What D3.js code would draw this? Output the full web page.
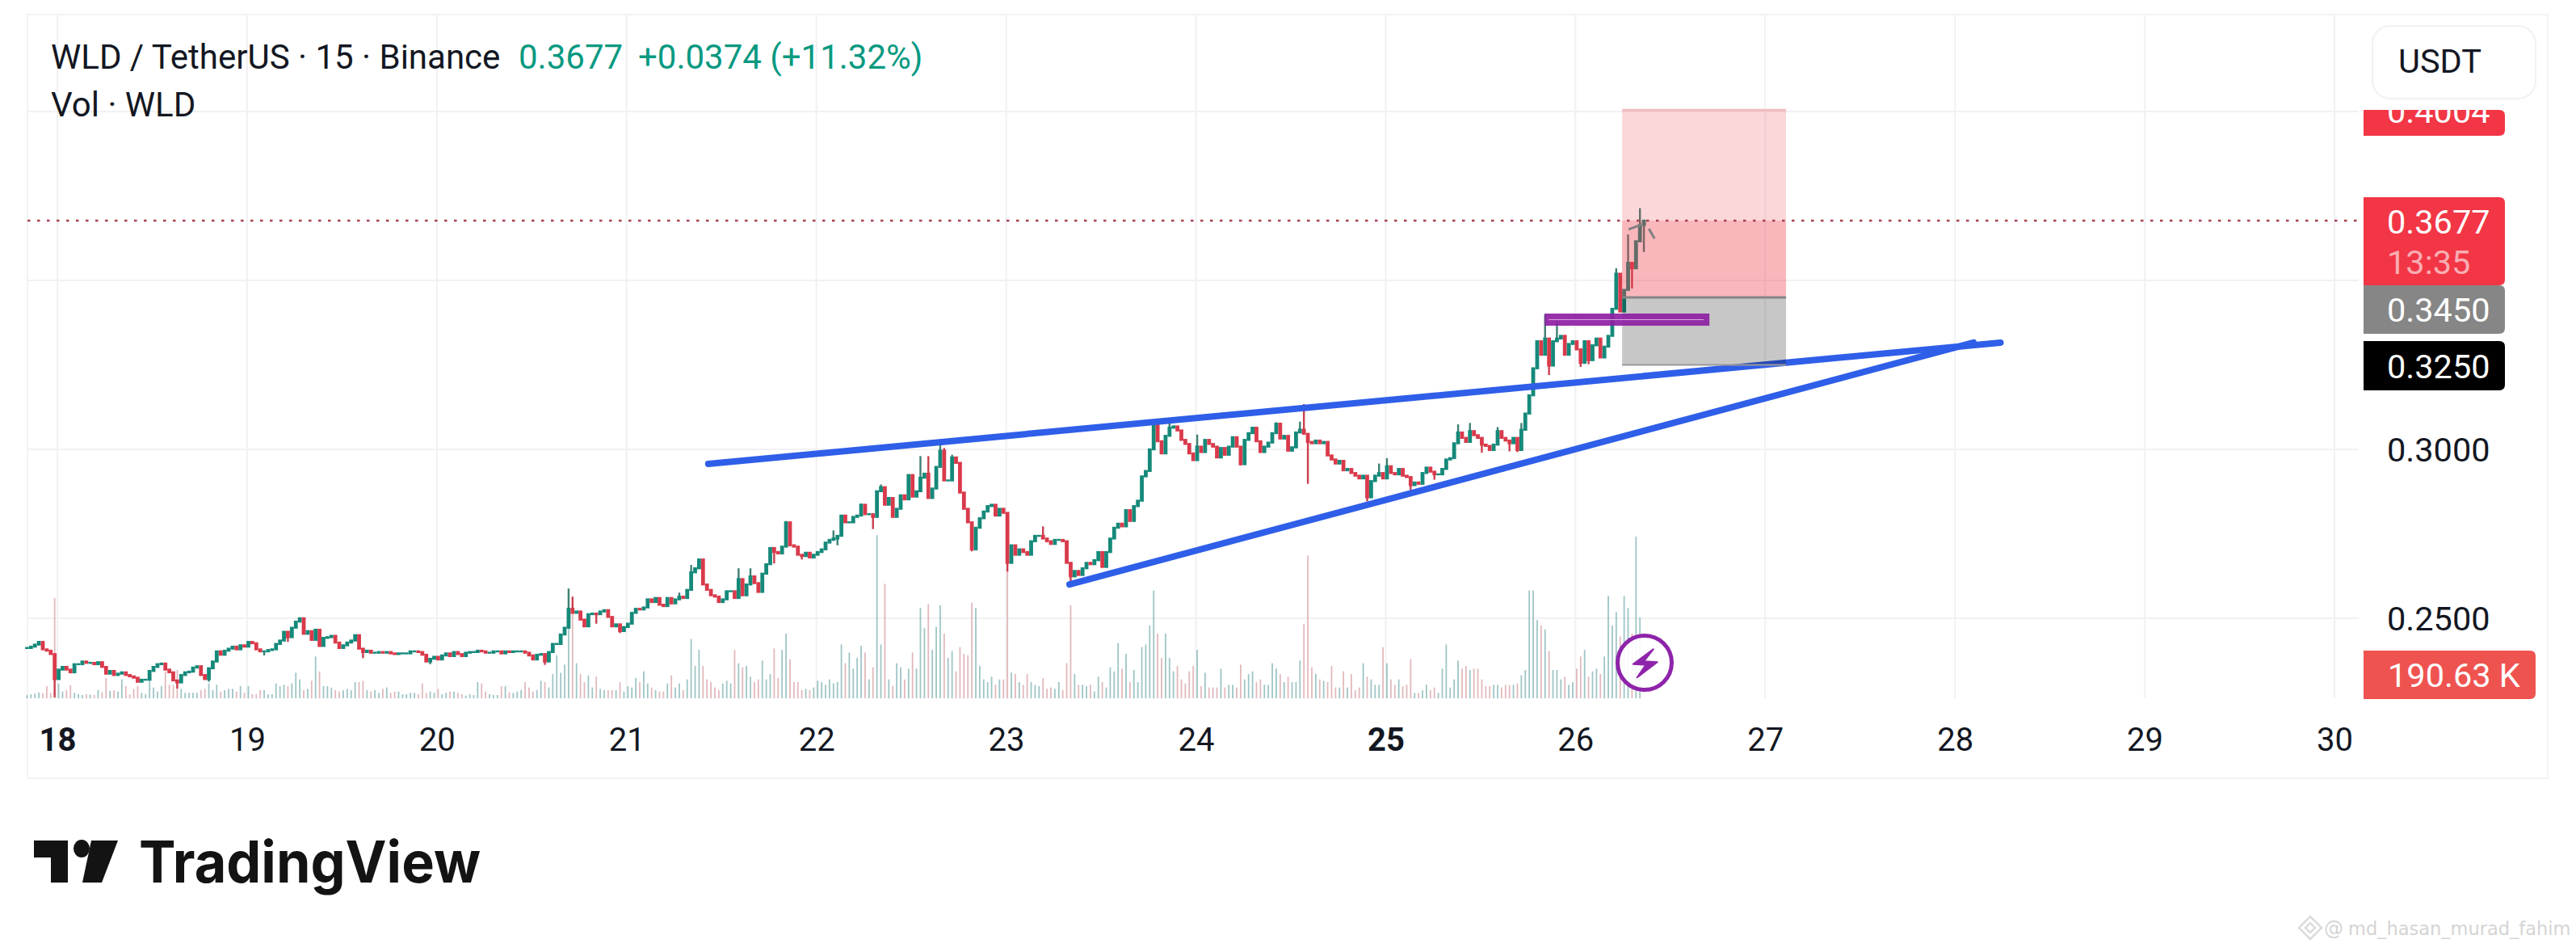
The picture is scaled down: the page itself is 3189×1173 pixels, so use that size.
<!DOCTYPE html>
<html lang="en">
<head>
<meta charset="UTF-8">
<title>WLD / TetherUS</title>
<script src="https://d3js.org/d3.v7.min.js"></script>
<style>
    body { margin: 0; background: #fff; }
    svg { display: block; font-family: Roboto, sans-serif; }
</style>
</head>
<body>
<script>
    // 30 minute closes, open = previous close
    const closes = [
        .2412,.2416,.2422,.2430,.2408,.2404,.2394,.2320,.2348,.2356,.2348,.2340,.2364,.2364,.2372,.2368,.2368,.2364,.2370,.2356,
        .2336,.2344,.2332,.2336,.2340,.2332,.2328,.2324,.2312,.2318,.2318,.2344,.2356,.2364,.2366,.2348,.2340,.2316,.2310,.2332,
        .2340,.2342,.2354,.2358,.2332,.2320,.2352,.2372,.2402,.2392,.2404,.2410,.2416,.2408,.2420,.2416,.2430,.2426,.2408,.2402,
        .2402,.2406,.2408,.2424,.2434,.2460,.2444,.2472,.2490,.2500,.2454,.2462,.2436,.2466,.2418,.2442,.2444,.2448,.2428,.2412,
        .2420,.2428,.2434,.2450,.2410,.2400,.2404,.2398,.2398,.2400,.2398,.2400,.2396,.2394,.2396,.2396,.2396,.2402,.2402,.2400,
        .2392,.2372,.2380,.2386,.2378,.2390,.2396,
        .2388,.2400,.2394,.2388,.2398,.2400,.2400,.2404,.2402,.2398,.2398,.2402,.2402,.2396,.2402,.2400,.2402,.2402,.2402,.2398,
        .2390,.2378,.2392,.2394,.2372,.2400,.2424,.2424,.2452,.2472,.2528,.2516,.2520,.2496,.2476,.2512,.2514,.2512,.2520,.2524,
        .2504,.2476,.2482,.2462,.2474,.2484,.2516,.2528,.2526,.2532,.2556,.2548,.2560,.2540,.2536,.2560,.2544,.2556,.2564,.2560,
        .2584,.2636,.2648,.2674,.2600,.2584,.2568,.2564,.2548,.2556,.2580,.2580,.2560,.2616,.2568,.2600,.2624,.2604,.2578,.2632,
        .2660,.2708,.2696,.2692,.2712,.2784,.2716,.2712,.2688,.2684,.2694,.2680,.2688,.2696,.2704,.2724,.2732,.2736,.2744,.2804,
        .2784,.2784,.2800,.2804,.2836,.2808,
        .2808,.2800,.2876,.2888,.2836,.2856,.2800,.2824,.2864,.2852,.2924,.2860,.2876,.2916,.2928,.2856,.2884,.2948,.2996,.2908,
        .2908,.2976,.2960,.2872,.2824,.2784,.2704,.2768,.2796,.2816,.2832,.2836,.2804,.2824,.2812,.2664,.2716,.2688,.2704,.2696,
        .2688,.2728,.2744,.2744,.2736,.2728,.2720,.2732,.2732,.2728,.2664,.2624,.2640,.2628,.2648,.2664,.2660,.2672,.2696,.2652,
        .2696,.2736,.2768,.2780,.2772,.2820,.2788,.2832,.2848,.2920,.2936,.3000,.3072,.3024,.2988,.3040,.3064,.3068,.3056,.3028,
        .3016,.2988,.2968,.3008,.2992,.3028,.3016,.3008,.2976,.3004,.2984,.3008,.3036,.3008,.2956,.3028,.3048,.3064,.3024,.2992,
        .3008,.3020,.3048,.3076,.3032,.3040,.2996,
        .3006,.3050,.3058,.3046,.3022,.3018,.3026,.3018,.3022,.2982,.2970,.2958,.2966,.2938,.2942,.2930,.2922,.2914,.2922,.2858,
        .2906,.2922,.2930,.2914,.2950,.2930,.2926,.2942,.2922,.2918,.2894,.2902,.2898,.2930,.2946,.2934,.2926,.2926,.2942,.2970,
        .2974,.3018,.3050,.3034,.3022,.3054,.3042,.3034,.3014,.3010,.2998,.3014,.3054,.3034,.3026,.3018,.3034,.2998,.3058,.3106,
        .3160,.3240,.3320,.3280,.3328,.3248,.3320,.3328,.3336,.3280,.3312,.3320,.3296,.3256,.3320,.3264,.3308,.3328,.3272,.3304,
        .3336,.3416,.3520,.3408,.3472,.3552,.3536,.3616,.3664,.3677
    ];

    // long wicks only: [candle index, high, low]
    const wicks = [
        [7,.2364,.2266],[38,null,.2292],[46,null,.2312],[60,null,.2390],[66,null,.2430],[85,null,.2382],[102,null,.2364],
        [131,null,.2362],[137,.2588,null],[138,.2564,null],[144,null,.2484],[150,null,.2456],[165,.2576,null],[168,.2658,null],
        [170,.2676,null],[180,.2648,null],[183,.2648,null],[189,null,.2662],[192,.2788,null],[196,null,.2674],[204,.2760,null],
        [205,null,.2716],[211,.2840,null],[214,null,.2764],[216,.2896,null],[226,.2980,null],[228,.2980,null],[231,.3020,null],
        [232,.3004,null],[234,.2984,null],[239,null,.2698],[248,null,.2638],[257,.2772,null],[264,null,.2598],[285,.3088,null],
        [289,.3080,null],[296,.3044,null],[307,null,.2952],[316,.3080,null],[322,.3082,null],[323,.3134,null],[324,null,.2898],
        [339,null,.2846],[342,.2958,null],[344,.2974,null],[350,null,.2874],[356,null,.2910],[362,.3074,null],[365,.3078,null],
        [368,null,.2990],[372,.3066,null],[375,null,.2994],[377,null,.2992],[378,.3078,null],[384,.3400,null],[385,null,.3220],
        [387,.3380,null],[393,null,.3244],[395,null,.3252],[402,.3536,null],[405,.3636,null],[406,null,.3476],[408,.3714,null],
        [409,null,.3584]
    ];

    // volume in K, same candles as closes
    const volumes = [
        12,15,18,22,18,45,20,372,55,25,30,48,20,15,12,15,14,12,30,22,75,28,30,25,70,45,15,35,45,20,15,70,40,25,45,100,50,50,105,35,
        20,20,20,20,30,35,55,30,50,25,30,35,35,25,45,20,45,15,15,30,30,15,15,55,45,50,45,55,95,70,30,35,65,155,100,45,45,40,30,25,
        30,35,30,60,60,65,30,25,30,20,35,40,20,25,25,15,15,20,20,15,55,20,25,20,35,15,20,
        25,25,20,15,10,15,12,60,55,25,15,12,12,45,45,22,20,25,30,60,40,25,30,65,60,40,90,160,95,125,340,340,130,90,60,85,40,80,35,30,
        30,30,30,60,25,45,40,75,60,100,55,40,30,25,25,55,85,40,55,30,70,220,120,180,120,70,60,40,30,55,65,55,180,130,115,120,80,60,70,140,
        70,90,185,75,180,240,145,60,60,30,35,30,40,65,60,50,70,55,60,200,130,170,110,150,195,170,
        70,115,605,200,425,70,45,130,115,70,110,170,110,335,260,350,180,265,345,240,150,175,100,190,165,160,355,335,120,70,60,80,50,70,70,470,95,90,60,50,
        90,60,50,45,75,35,40,35,60,30,130,345,90,50,50,45,50,25,80,60,40,115,100,205,110,165,60,105,60,190,200,270,400,240,150,240,150,100,120,70,
        55,100,120,180,45,95,40,40,40,110,40,50,50,40,125,70,90,100,60,70,50,50,130,110,90,60,80,
        60,60,140,275,530,115,90,70,65,60,120,40,40,100,40,90,30,40,130,80,70,50,50,190,130,70,50,70,45,50,145,20,20,30,50,30,40,20,110,200,
        40,70,140,110,120,105,110,110,70,45,45,50,50,40,50,50,50,55,85,105,400,400,290,270,255,175,105,105,70,80,50,60,110,155,180,80,100,110,90,155,
        380,270,320,230,380,335,240,600,300
    ];

    const dayTicks = [18, 19, 20, 21, 22, 23, 24, 25, 26, 27, 28, 29, 30];
    const boldDays = [18, 25];
    const gridPrices = [0.25, 0.30, 0.35, 0.40];
    const priceTicks = [0.25, 0.30];
    const firstDay = 17.84;
    const candlesPerDay = 48;

    const lastPrice = 0.3677;
    const entryPrice = 0.3450;
    const targetPrice = 0.4004;
    const stopPrice = 0.3250;

    // trend lines as [day, price] pairs
    const trendLines = [
        [[21.43, 0.2957], [28.24, 0.3316]],
        [[23.334, 0.2600], [28.098, 0.3316]]
    ];
    const arrowStrokes = [
        [[26.28, 0.3651], [26.357, 0.3667]],
        [[26.387, 0.3653], [26.417, 0.3624]]
    ];

    const W = 3189, H = 1173;
    const green = "#089981", red = "#f23645", ink = "#131722";
    const frameLeft = 34, frameRight = 3154, frameTop = 18, frameBottom = 963, plotBottom = 864, gridRight = 2920;

    const x = d3.scaleLinear().domain([18, 30]).range([71, 2890]);
    const y = d3.scaleLinear().domain([0.25, 0.35]).range([765, 347]);
    const vy = d3.scaleLinear().domain([0, 600]).range([plotBottom, plotBottom - 200]);
    const candleX = i => x(firstDay + i / candlesPerDay);

    const svg = d3.select("body").append("svg").attr("width", W).attr("height", H);

    // frame and grid
    svg.append("rect").attr("x", frameLeft).attr("y", frameTop).attr("width", frameRight - frameLeft).attr("height", frameBottom - frameTop)
        .attr("fill", "none").attr("stroke", "#f3f3f4").attr("stroke-width", 2);
    svg.append("g").selectAll("line").data(dayTicks).join("line")
        .attr("x1", d => x(d)).attr("x2", d => x(d)).attr("y1", frameTop).attr("y2", plotBottom)
        .attr("stroke", "#f1f1f3").attr("stroke-width", 2);
    svg.append("g").selectAll("line").data(gridPrices).join("line")
        .attr("x1", frameLeft).attr("x2", gridRight).attr("y1", d => y(d)).attr("y2", d => y(d))
        .attr("stroke", "#f1f1f3").attr("stroke-width", 2);

    // volume
    svg.append("g").selectAll("rect").data(volumes).join("rect")
        .attr("x", (d, i) => candleX(i) - 0.9)
        .attr("width", 1.8)
        .attr("y", d => vy(d))
        .attr("height", d => plotBottom - vy(d))
        .attr("fill", (d, i) => closes[i] >= (i ? closes[i - 1] : closes[i]) ? "#5f9ea0" : "#cf8a8f")
        .attr("opacity", 0.6);

    // candles
    const candles = svg.append("g");
    candles.selectAll("line").data(wicks).join("line")
        .attr("x1", d => candleX(d[0])).attr("x2", d => candleX(d[0]))
        .attr("y1", d => y(d[1] === null ? Math.max(closes[d[0]], closes[d[0] - 1]) : d[1]))
        .attr("y2", d => y(d[2] === null ? Math.min(closes[d[0]], closes[d[0] - 1]) : d[2]))
        .attr("stroke", d => closes[d[0]] >= closes[d[0] - 1] ? "#3f7f72" : "#c9404f")
        .attr("stroke-width", 2.4);
    candles.selectAll("rect").data(closes).join("rect")
        .attr("x", (d, i) => candleX(i) - 2.4)
        .attr("width", 4.8)
        .attr("y", (d, i) => Math.min(y(d), y(i ? closes[i - 1] : d)) - 1.2)
        .attr("height", (d, i) => Math.abs(y(d) - y(i ? closes[i - 1] : d)) + 2.4)
        .attr("fill", (d, i) => d >= (i ? closes[i - 1] : d) ? "#15897a" : "#d93a4b");

    // trend lines
    const line = d3.line().x(d => x(d[0])).y(d => y(d[1]));
    svg.append("g").selectAll("path").data(trendLines).join("path")
        .attr("d", line).attr("fill", "none").attr("stroke", "#2f5ee8")
        .attr("stroke-width", 8).attr("stroke-linecap", "round");

    // long position tool
    const boxDays = [26.246, 27.11];
    const box = svg.append("g");
    const zone = (p1, p2, fill) => box.append("rect")
        .attr("x", x(boxDays[0])).attr("width", x(boxDays[1]) - x(boxDays[0]))
        .attr("y", y(p1)).attr("height", y(p2) - y(p1)).attr("fill", fill);
    zone(targetPrice, entryPrice, "rgba(242,54,69,0.2)");
    zone(lastPrice, entryPrice, "rgba(242,54,69,0.2)");
    zone(entryPrice, stopPrice, "rgba(0,0,0,0.22)");
    const boxLine = (p, color, w) => box.append("line")
        .attr("x1", x(boxDays[0])).attr("x2", x(boxDays[1])).attr("y1", y(p)).attr("y2", y(p))
        .attr("stroke", color).attr("stroke-width", w);
    boxLine(targetPrice, "#f0bcc1", 3);
    boxLine(entryPrice, "#858585", 3);
    boxLine(stopPrice, "#9a9a9a", 2);

    // purple block with its centre line
    svg.append("rect").attr("x", x(25.838)).attr("width", x(26.706) - x(25.838))
        .attr("y", y(0.3402)).attr("height", y(0.3366) - y(0.3402))
        .attr("fill", "#8e1fa3").attr("opacity", 0.92);
    svg.append("line").attr("x1", x(25.859)).attr("x2", x(26.676))
        .attr("y1", y(0.3384)).attr("y2", y(0.3384)).attr("stroke", "#dba8e4").attr("stroke-width", 1);

    svg.append("g").selectAll("path").data(arrowStrokes).join("path")
        .attr("d", line).attr("fill", "none").attr("stroke", "#808080").attr("stroke-width", 3);

    // last price line
    svg.append("line").attr("x1", frameLeft).attr("x2", gridRight - 2).attr("y1", y(lastPrice)).attr("y2", y(lastPrice))
        .attr("stroke", "#a8404f").attr("stroke-width", 2.5).attr("stroke-dasharray", "3.5 8.5");

    // axes
    const xAxis = svg.append("g").attr("transform", `translate(0,${plotBottom})`)
        .call(d3.axisBottom(x).tickValues(dayTicks).tickSize(0).tickFormat(d3.format("d")));
    xAxis.select(".domain").remove();
    xAxis.selectAll("text").attr("y", 65).attr("dy", 0)
        .attr("font-size", 40).attr("fill", ink).attr("font-family", "Roboto, sans-serif")
        .attr("font-weight", d => boldDays.includes(d) ? 700 : 400);

    const yAxis = svg.append("g").attr("transform", "translate(2955,1.5)")
        .call(d3.axisRight(y).tickValues(priceTicks).tickSize(0).tickPadding(0).tickFormat(d3.format(".4f")));
    yAxis.select(".domain").remove();
    yAxis.selectAll("text").attr("font-size", 41.5).attr("fill", ink).attr("font-family", "Roboto, sans-serif");

    // price tags, square on the left and rounded on the right
    const tag = (x0, x1, y0, y1, fill) => svg.append("path").attr("fill", fill)
        .attr("d", `M${x0},${y0}H${x1 - 7}Q${x1},${y0} ${x1},${y0 + 7}V${y1 - 7}Q${x1},${y1} ${x1 - 7},${y1}H${x0}Z`);
    const label = (txt, px, py, fill, size) => svg.append("text").attr("x", px).attr("y", py)
        .attr("font-size", size || 41.5).attr("fill", fill).text(txt);

    svg.append("clipPath").attr("id", "tagClip").append("rect")
        .attr("x", 2926).attr("y", 136).attr("width", 176).attr("height", 32);
    tag(2926, 3101, 136, 168, "#f23645");
    label("0.4004", 2955, y(targetPrice) + 16, "#fff").attr("clip-path", "url(#tagClip)");

    tag(2926, 3101, 353, 413, "#868686");
    tag(2926, 3101, 244, 353, "#f23645");
    label("0.3677", 2955, 289, "#fff");
    label("13:35", 2955, 339, "rgba(255,255,255,0.6)");
    label("0.3450", 2955, 398, "#fff");
    tag(2926, 3101, 422, 483, "#000");
    label("0.3250", 2955, 468, "#fff");
    tag(2926, 3139, 805, 865, "#ef5350");
    label("190.63 K", 2956, 850, "#fff");

    svg.append("rect").attr("x", 2937).attr("y", 32).attr("width", 202).attr("height", 90).attr("rx", 22)
        .attr("fill", "#fff").attr("stroke", "#f0f1f4").attr("stroke-width", 2);
    label("USDT", 2969, 90, ink);

    // legend
    label("WLD / TetherUS · 15 · Binance", 63, 85, ink, 42);
    label("0.3677", 642, 85, green, 42);
    label("+0.0374 (+11.32%)", 790, 85, green, 42);
    label("Vol · WLD", 63, 144, ink, 42);

    // lightning badge
    const badge = svg.append("g").attr("transform", "translate(2036,820)");
    badge.append("circle").attr("r", 33.5).attr("fill", "rgba(255,255,255,0.9)")
        .attr("stroke", "#8e24aa").attr("stroke-width", 5);
    badge.append("path").attr("d", "M10.7,-16.7L-14.3,1.7L1.3,2.7L-9.3,18.3L15.7,-0.7L-1,-1.7Z")
        .attr("fill", "#8e24aa").attr("stroke", "#8e24aa").attr("stroke-width", 2).attr("stroke-linejoin", "round");

    // TradingView logo
    const logo = svg.append("g").attr("fill", "#131313");
    logo.append("path").attr("d", "M42,1040H84V1092H63V1061H42Z");
    logo.append("ellipse").attr("cx", 101).attr("cy", 1050).attr("rx", 10).attr("ry", 11);
    logo.append("path").attr("d", "M113,1040H146L126,1092H102Z");
    logo.append("text").attr("x", 172).attr("y", 1092).attr("font-family", "Inter, sans-serif")
        .attr("font-size", 71).attr("font-weight", 700).attr("textLength", 423)
        .attr("lengthAdjust", "spacingAndGlyphs").text("TradingView");

    // watermark
    const mark = svg.append("g").attr("fill", "none").attr("stroke", "#dcdcdc").attr("stroke-width", 2.5);
    mark.append("path").attr("d", "M2860,1134L2874,1148L2860,1162L2846,1148Z");
    mark.append("path").attr("d", "M2860,1142L2866,1148L2860,1154L2854,1148Z");
    svg.append("text").attr("x", 2877).attr("y", 1157).attr("font-size", 24).attr("fill", "#d4d4d4")
        .attr("font-family", "'DejaVu Sans', sans-serif").text("@");
    svg.append("text").attr("x", 2907).attr("y", 1157).attr("font-size", 22.5).attr("fill", "#d4d4d4")
        .attr("font-family", "'DejaVu Sans', sans-serif").text("md_hasan_murad_fahim");
</script>
</body>
</html>
